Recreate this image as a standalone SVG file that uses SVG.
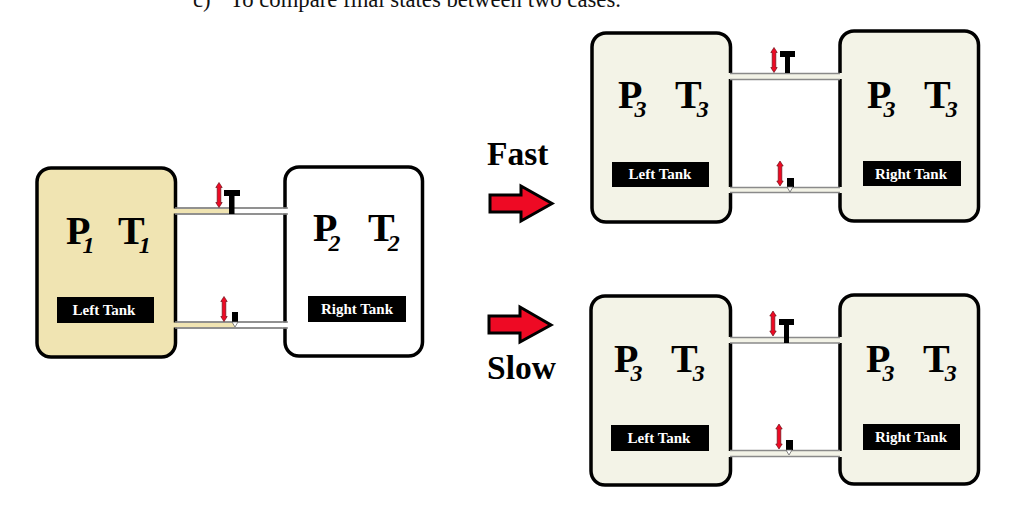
<svg xmlns="http://www.w3.org/2000/svg" width="1024" height="509" viewBox="0 0 1024 509">
<style>
text{font-family:"Liberation Serif","Times New Roman",serif;fill:#000}
.tank{stroke:#000;stroke-width:3.5}
.tan{fill:#F0E4B2}.beige{fill:#F3F3E7}.white{fill:#fff}
.big{font-size:40px;font-weight:bold}
.sub{font-size:24px;font-weight:bold;font-style:italic}
.lab{fill:#000}
.labt{font-size:15px;font-weight:bold;fill:#fff;text-anchor:middle}
.pl{stroke:#8a8a8a;stroke-width:1.6;fill:none}
.cap{font-size:22.7px;fill:#111}
.head{font-size:33.5px;font-weight:bold}
.bar{fill:#000}
.bigarrow{fill:#EE0A24;stroke:#000;stroke-width:3}
</style>
<defs>
<path id="da" d="M0-12.500 3.200-7.500H1.800V7.500H3.200L0 12.500-3.200 7.500H-1.800V-7.500H-3.200Z" fill="#EE0A24" stroke="#6a1018" stroke-width="0.7"/>
<path id="tri" d="M-3 0H3L0 5Z" fill="#fff" stroke="#666" stroke-width="0.8"/>
</defs>
<text class="cap" x="193" y="7">c)</text>
<text class="cap" x="230" y="7">To compare final states between two cases.</text>

<g id="connectors">
<rect class="tan" x="173" y="208" width="58" height="6"/><rect class="white" x="231" y="208" width="54" height="6"/>
<path class="pl" d="M175 208H285M175 214H285"/>
<rect class="tan" x="173" y="322" width="62" height="6"/><rect class="white" x="235" y="322" width="50" height="6"/>
<path class="pl" d="M175 322H285M175 328H285"/>
</g>

<g id="initial-left-tank">
<rect class="tank tan" x="37" y="168" width="138.500" height="189" rx="14"/>
<text class="big" x="66" y="244">P<tspan class="sub" dx="-8" dy="9">1</tspan></text>
<text class="big" x="118" y="244">T<tspan class="sub" dx="-6" dy="9">1</tspan></text>
<rect class="lab" x="57" y="297" width="97" height="26"/><text class="labt" x="104" y="315">Left Tank</text>
</g>
<g id="initial-right-tank">
<rect class="tank white" x="285" y="167" width="137.500" height="189" rx="14"/>
<text class="big" x="313" y="241">P<tspan class="sub" dx="-9" dy="10">2</tspan></text>
<text class="big" x="368" y="241">T<tspan class="sub" dx="-7" dy="10">2</tspan></text>
<rect class="lab" x="308" y="296" width="98" height="26"/><text class="labt" x="357" y="314">Right Tank</text>
</g>
<g id="top-final-left-tank">
<rect class="tank beige" x="592" y="33" width="138.500" height="189" rx="14"/>
<text class="big" x="618" y="108">P<tspan class="sub" dx="-8" dy="9">3</tspan></text>
<text class="big" x="675" y="108">T<tspan class="sub" dx="-5" dy="9">3</tspan></text>
<rect class="lab" x="612" y="162" width="97" height="25"/><text class="labt" x="660" y="179">Left Tank</text>
</g>
<g id="top-final-right-tank">
<rect class="tank beige" x="840" y="31" width="138.500" height="190" rx="14"/>
<text class="big" x="867" y="108">P<tspan class="sub" dx="-8" dy="9">3</tspan></text>
<text class="big" x="924" y="108">T<tspan class="sub" dx="-5" dy="9">3</tspan></text>
<rect class="lab" x="863" y="161" width="98" height="25"/><text class="labt" x="911" y="179">Right Tank</text>
</g>
<g id="bottom-final-left-tank">
<rect class="tank beige" x="591" y="296" width="139.500" height="189" rx="14"/>
<text class="big" x="614" y="372">P<tspan class="sub" dx="-8" dy="9">3</tspan></text>
<text class="big" x="671" y="372">T<tspan class="sub" dx="-5" dy="9">3</tspan></text>
<rect class="lab" x="611" y="425" width="98" height="26"/><text class="labt" x="659" y="443">Left Tank</text>
</g>
<g id="bottom-final-right-tank">
<rect class="tank beige" x="840" y="295" width="138.500" height="189" rx="14"/>
<text class="big" x="866" y="372">P<tspan class="sub" dx="-8" dy="9">3</tspan></text>
<text class="big" x="923" y="372">T<tspan class="sub" dx="-5" dy="9">3</tspan></text>
<rect class="lab" x="863" y="424" width="97" height="26"/><text class="labt" x="911" y="442">Right Tank</text>
</g>

<g id="pipe-overlays">
<rect class="tan" x="172" y="208.500" width="6" height="5"/><rect class="white" x="282" y="208.500" width="6" height="5"/>
<path class="pl" d="M175 208H288M175 214H288"/>
<rect class="tan" x="172" y="322.500" width="6" height="5"/><rect class="white" x="282" y="322.500" width="6" height="5"/>
<path class="pl" d="M175 322H288M175 328H288"/>
<rect class="beige" x="728" y="73" width="114" height="6"/><path class="pl" d="M730 73.500H840M730 79.500H840"/>
<rect class="beige" x="728" y="187" width="114" height="6"/><path class="pl" d="M730 187.500H840M730 192.500H840"/>
<rect class="beige" x="728" y="337" width="114" height="6"/><path class="pl" d="M730 337.500H840M730 343H840"/>
<rect class="beige" x="728" y="451" width="114" height="6"/><path class="pl" d="M730 450.500H840M730 456.500H840"/>
</g>

<g id="valve-initial-top"><use href="#da" x="219" y="195"/><path class="bar" d="M224 190H240V196H234.500V214H229V196H224Z"/></g>
<g id="valve-initial-bottom"><use href="#da" x="224" y="309"/><rect class="bar" x="232" y="312" width="6" height="10"/><use href="#tri" x="235" y="322"/></g>
<g id="valve-top-upper"><use href="#da" x="774" y="60"/><path class="bar" d="M780 51H795V57H790V73H785V57H780Z"/></g>
<g id="valve-top-lower"><use href="#da" x="780" y="173.500"/><rect class="bar" x="787" y="178" width="7" height="9"/><use href="#tri" x="790" y="187"/></g>
<g id="valve-bottom-upper"><use href="#da" x="773" y="323.500"/><path class="bar" d="M779 319H794V325H789V343H784V325H779Z"/></g>
<g id="valve-bottom-lower"><use href="#da" x="779" y="436.500"/><rect class="bar" x="786" y="440" width="7" height="10"/><use href="#tri" x="789" y="450"/></g>

<g id="fast">
<text class="head" x="487" y="165">Fast</text>
<path class="bigarrow" d="M490 195H521V186L552 203.500 521 221V212H490Z"/>
</g>
<g id="slow">
<path class="bigarrow" d="M489 316H520V307L551 325 520 342V333H489Z"/>
<text class="head" x="487" y="379">Slow</text>
</g>
</svg>
